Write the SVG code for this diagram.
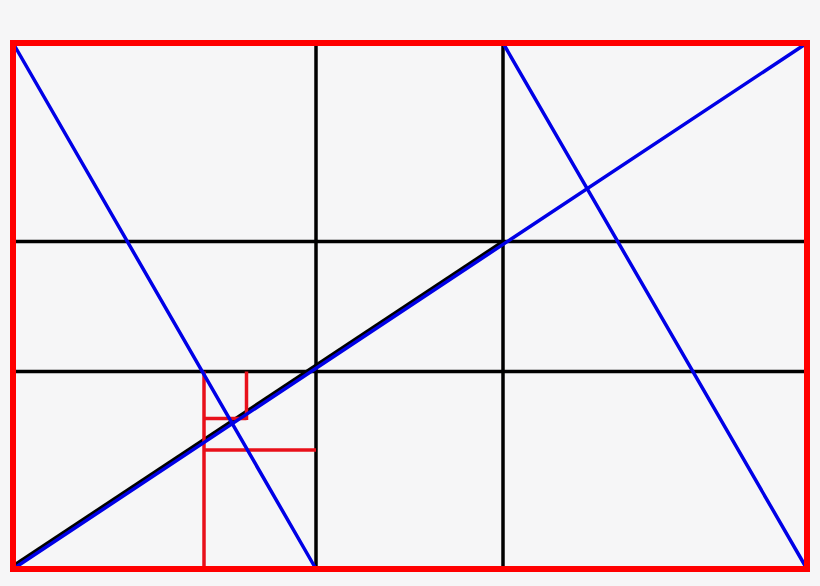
<svg xmlns="http://www.w3.org/2000/svg" width="820" height="586" viewBox="0 0 820 586">
<style>
.grid{stroke:#000;stroke-width:3.5;fill:none}
.blue{stroke:#0000e6;stroke-width:3.5;fill:none;stroke-linecap:round}
.red{stroke:#e8101a;stroke-width:3.5;fill:none}
.frame{stroke:#ff0000;stroke-width:6;fill:none}
</style>
<rect width="820" height="586" fill="#f6f6f7"/>
<g id="grid">
<line class="grid" x1="316" y1="43" x2="316" y2="569"/>
<line class="grid" x1="503" y1="43" x2="503" y2="569"/>
<line class="grid" x1="13" y1="241.5" x2="807" y2="241.5"/>
<line class="grid" x1="13" y1="371.5" x2="807" y2="371.5"/>
<line class="grid" x1="13" y1="566" x2="503" y2="241.5"/>
</g>
<g id="spiral">
<line class="red" x1="204" y1="371.5" x2="204" y2="569"/>
<line class="red" x1="246.5" y1="371.5" x2="246.5" y2="420"/>
<line class="red" x1="204" y1="418.5" x2="246.5" y2="418.5"/>
<line class="red" x1="204" y1="450" x2="316" y2="450"/>
</g>
<g id="diagonals">
<line class="blue" x1="13" y1="43" x2="316" y2="569"/>
<line class="blue" x1="503" y1="43" x2="807" y2="569"/>
<line class="blue" x1="13" y1="569" x2="807" y2="43"/>
</g>
<rect id="frame" class="frame" x="13" y="43" width="794" height="526"/>
</svg>
